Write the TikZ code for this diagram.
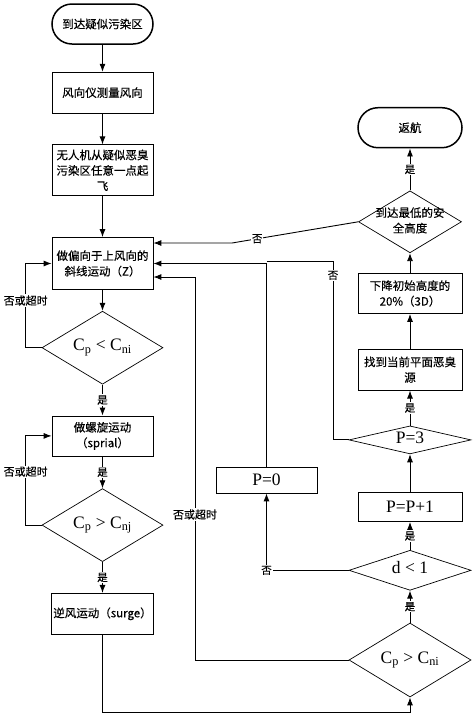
\documentclass[tikz,border=0pt]{standalone}
\usepackage{fontspec}
\setmainfont{Noto Sans CJK SC}[FakeBold=0.3]
\newfontfamily\formfont{Liberation Serif}
\usetikzlibrary{arrows.meta}
\usetikzlibrary{positioning}
\usetikzlibrary{shapes.geometric}
\newcommand{\dectext}[1]{\smash{\makebox[0pt]{\raisebox{-0.25em}{\begin{tabular}{@{}c@{}}#1\end{tabular}}}}}
\newcommand{\formula}[1]{{\formfont\fontsize{17.5}{20}\selectfont #1}}
\tikzset{
    >={Latex[width=6pt,length=8pt]},
    base/.style =   {
                        rectangle, draw=black, line width=0.7pt,
                        minimum width=101pt, minimum height=40pt,
                        text centered, align=center, inner sep=2pt,
                        font=\fontsize{11.5}{15.5}\selectfont
                    },
    start_stop/.style = {base, rounded corners=20pt, line width=1.5pt},
    process/.style = {base},
    decision/.style = {base, diamond, minimum width=121pt, minimum height=73pt, inner sep=0pt},
    label_text/.style = {fill=white, inner sep=1pt, font=\fontsize{10.5}{12}\selectfont},
    timeout_text/.style = {label_text, font=\fontsize{11}{13}\selectfont},
    link/.style = {->, line width=0.9pt}
}
\begin{document}
\begin{tikzpicture}[x=1pt, y=-1pt]
    \useasboundingbox (0,0) rectangle (474,716);

    \node (start)        [start_stop] at (102.5,24)                          {到达疑似污染区};
    \node (wind)         [process, below=27pt of start, minimum height=41pt]   {风向仪测量风向};
    \node (takeoff)      [process, below=31pt of wind, minimum height=51pt]    {无人机从疑似恶臭\\污染区任意一点起\\飞};
    \node (zigzag)       [process, below=41pt of takeoff, minimum height=52pt] {做偏向于上风向的\\斜线运动（Z）};
    \node (check_ni)     [decision, below=21pt of zigzag]                      {\dectext{\formula{C\textsubscript{p} < C\textsubscript{ni}}}};
    \node (spiral)       [process, below=31pt of check_ni]                     {做螺旋运动\\（sprial）};
    \node (check_nj)     [decision, below=32pt of spiral]                      {\dectext{\formula{C\textsubscript{p} > C\textsubscript{nj}}}};
    \node (surge)        [process, below=31pt of check_nj, minimum height=41pt] {逆风运动（surge）};

    \node (check_cni)    [decision, minimum width=122pt, minimum height=74pt] at (410,660) {\dectext{\formula{C\textsubscript{p} > C\textsubscript{ni}}}};
    \node (dist)         [decision, above=32pt of check_cni, minimum width=122pt, minimum height=40pt] {\dectext{\formula{d < 1}}};
    \node (count)        [process, above=28pt of dist, minimum width=104pt, minimum height=29pt]     {\formula{P=P+1}};
    \node (check_p3)     [decision, above=38pt of count, minimum width=122pt, minimum height=28pt]   {\dectext{\formula{P=3}}};
    \node (found)        [process, above=35pt of check_p3, minimum width=104pt, minimum height=41pt] {找到当前平面恶臭\\源};
    \node (descend)      [process, above=35pt of found, minimum width=104pt, minimum height=40pt]    {下降初始高度的\\20\%（3D）};
    \node (safe_height)  [decision, above=20pt of descend, minimum width=103pt, minimum height=62pt] {\dectext{到达最低的安\\全高度}};
    \node (return)       [start_stop, above=42pt of safe_height, minimum width=104pt]                {返航};
    \node (reset)        [process, minimum height=26pt] at (266.5,480)                               {\formula{P=0}};

    \coordinate (safe_turn)   at (232,243);
    \coordinate (p3_turn)     at (333,261);
    \coordinate (back_turn)   at (195,277);
    \coordinate (bottom_turn) at (410,712);

    \draw[link]  (start) -- (wind);
    \draw[link]  (wind) -- (takeoff);
    \draw[link]  (takeoff) -- (zigzag);
    \draw[link]  (zigzag) -- (check_ni);
    \draw[link]  (check_ni) -- node[label_text] {是} (spiral);
    \draw[link]  (spiral) -- node[label_text] {是} (check_nj);
    \draw[link]  (check_nj) -- node[label_text] {是} (surge);
    \draw[link]  (check_ni.west) -| node[timeout_text, pos=0.78] {否或超时} ([xshift=-26pt]zigzag.west) -- (zigzag.west);
    \draw[link]  (check_nj.west) -| node[timeout_text, pos=0.8] {否或超时} ([xshift=-26pt]spiral.west) -- (spiral.west);
    \draw[link]  (surge.south) |- (bottom_turn) -- (check_cni.south);

    \draw[link]  (check_cni) -- node[label_text] {是} (dist);
    \draw[link]  (dist) -- node[label_text] {是} (count);
    \draw[link]  (count) -- (check_p3);
    \draw[link]  (check_p3) -- node[label_text] {是} (found);
    \draw[link]  (found) -- (descend);
    \draw[link]  (descend) -- (safe_height);
    \draw[link]  (safe_height) -- node[label_text] {是} (return);

    \draw[link]  (check_cni.west) -| node[timeout_text, pos=0.69] {否或超时} (back_turn) -- (zigzag.east |- back_turn);
    \draw[link]  (dist.west) -| node[label_text] {否} (reset.south);
    \draw[link]  (reset.north) |- (zigzag.east);
    \draw[line width=0.9pt] (check_p3.west) -| node[label_text, pos=0.96] {否} (p3_turn) -- (reset.north |- p3_turn);
    \draw[link]  (safe_height.west) -- node[label_text, pos=0.8] {否} (safe_turn) -- (zigzag.east |- safe_turn);
\end{tikzpicture}
\end{document}
